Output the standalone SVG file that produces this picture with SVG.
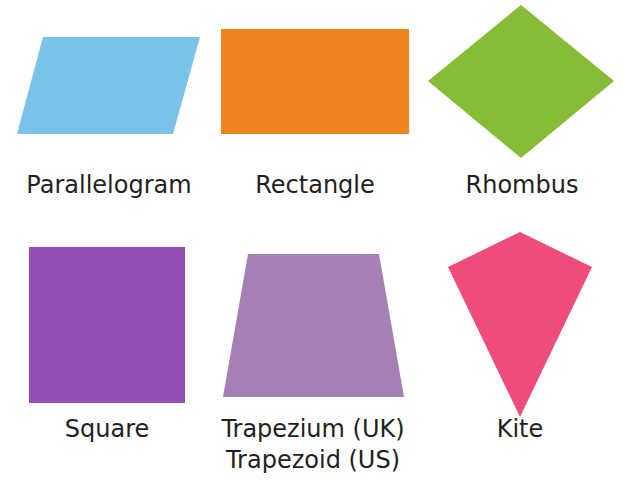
<svg xmlns="http://www.w3.org/2000/svg" width="622" height="483" viewBox="0 0 622 483">
<style>
text{font-family:"DejaVu Sans","Liberation Sans",sans-serif;font-size:24px;fill:#231f20;text-anchor:middle}
</style>
<rect width="622" height="483" fill="#ffffff"/>
<g id="parallelogram">
<polygon points="43,37 200,37 173,134 17,134" fill="#79c2ea"/>
<text x="109" y="193">Parallelogram</text>
</g>
<g id="rectangle">
<rect x="221" y="29" width="188" height="105" fill="#ef831d"/>
<text x="315" y="193">Rectangle</text>
</g>
<g id="rhombus">
<polygon points="521,5 614,81 521,158 428,81" fill="#86bc36"/>
<text x="522" y="193">Rhombus</text>
</g>
<g id="square">
<rect x="29" y="247" width="156" height="156" fill="#924fb7"/>
<text x="107" y="437">Square</text>
</g>
<g id="trapezium">
<polygon points="248,254 379,254 404,397 223,397" fill="#a67fb9"/>
<text x="313" y="437">Trapezium (UK)</text>
<text x="313" y="468">Trapezoid (US)</text>
</g>
<g id="kite">
<polygon points="520,232 592,267 520,417 448,267" fill="#ee4d7b"/>
<text x="520" y="437">Kite</text>
</g>
<g id="connectors"/>
</svg>
